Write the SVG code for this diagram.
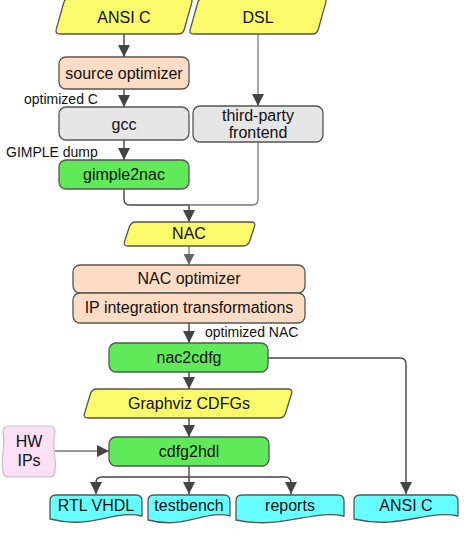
<svg xmlns="http://www.w3.org/2000/svg" width="474" height="539" viewBox="0 0 474 539">
<defs>
<style>
text{font-family:"Liberation Sans",Arial,sans-serif;font-size:16px;fill:#111;text-anchor:middle}
.lbl{font-size:14px;text-anchor:start}
.n{stroke:#555;stroke-width:1.3}
.io{fill:#fafa6a}
.opt{fill:#fcdcc4}
.gry{fill:#e6e6e6}
.grn{fill:#60ea5a}
.doc{fill:#66ffff}
.ip{fill:#f9e0f5}
.c{fill:none;stroke:#444;stroke-width:1.4}
.cg{fill:none;stroke:#777;stroke-width:1.3}
</style>
<marker id="ah" markerUnits="userSpaceOnUse" markerWidth="12" markerHeight="12" viewBox="0 0 10 10" refX="10" refY="5" orient="auto"><path d="M0,0 L10,5 L0,10 z" fill="#444"/></marker>
<marker id="ahg" markerUnits="userSpaceOnUse" markerWidth="11" markerHeight="11" viewBox="0 0 10 10" refX="10" refY="5" orient="auto"><path d="M0,0 L10,5 L0,10 z" fill="#666"/></marker>
</defs>
<g id="connectors">
<path class="c" d="M124,34 V57" marker-end="url(#ah)"/>
<path class="c" d="M124,89 V107" marker-end="url(#ah)"/>
<path class="c" d="M124,140 V160" marker-end="url(#ah)"/>
<path class="cg" d="M258,34 V106" marker-end="url(#ah)"/>
<path class="c" d="M124,189 V199 Q124,205 130,205 H189 V222" marker-end="url(#ah)"/>
<path class="cg" d="M258,142 V199 Q258,205 252,205 H189"/>
<path class="cg" d="M189,246 V265" marker-end="url(#ahg)"/>
<path class="c" d="M189,323 V343" marker-end="url(#ah)"/>
<path class="c" d="M189,372 V389" marker-end="url(#ah)"/>
<path class="c" d="M189,418 V437" marker-end="url(#ah)"/>
<path class="cg" d="M55,451 H109" marker-end="url(#ah)"/>
<path class="c" d="M189,466 V494" marker-end="url(#ah)"/>
<path class="c" d="M189,477 H102 Q96,477 96,483 V494" marker-end="url(#ah)"/>
<path class="c" d="M189,477 H285 Q291,477 291,483 V494" marker-end="url(#ah)"/>
<path class="c" d="M268,358 H400 Q406,358 406,364 V494" marker-end="url(#ah)"/>
<text class="lbl" x="24" y="104">optimized C</text>
<text class="lbl" x="6" y="157">GIMPLE dump</text>
<text class="lbl" x="205" y="337">optimized NAC</text>
</g>
<g id="ansic_in"><path class="n io" d="M70,-2 H188 Q193,-2 191.7,2.8 L184.3,29.2 Q183,34 178,34 H60 Q55,34 56.3,29.2 L63.7,2.8 Q65,-2 70,-2 Z"/><text x="124" y="23">ANSI C</text></g>
<g id="dsl"><path class="n io" d="M204,-2 H322 Q327,-2 325.7,2.8 L318.3,29.2 Q317,34 312,34 H194 Q189,34 190.3,29.2 L197.7,2.8 Q199,-2 204,-2 Z"/><text x="258" y="23">DSL</text></g>
<g id="source_optimizer"><rect class="n opt" x="59" y="57" width="130" height="32" rx="7"/><text x="124" y="79">source optimizer</text></g>
<g id="gcc"><rect class="n gry" x="59" y="107" width="130" height="33" rx="7"/><text x="124" y="130">gcc</text></g>
<g id="frontend"><rect class="n gry" x="193" y="106" width="130" height="36" rx="7"/><text x="258" y="121">third-party</text><text x="258" y="138">frontend</text></g>
<g id="gimple2nac"><rect class="n grn" x="59" y="160" width="130" height="29" rx="7"/><text x="124" y="180">gimple2nac</text></g>
<g id="nac"><path class="n io" d="M136,222 H251 Q256,222 254.4,226.7 L249.6,241.3 Q248,246 243,246 H128 Q123,246 124.6,241.3 L129.4,226.7 Q131,222 136,222 Z"/><text x="189" y="239">NAC</text></g>
<g id="nac_optimizer"><rect class="n opt" x="73" y="265" width="232" height="28" rx="7"/><text x="189" y="284">NAC optimizer</text></g>
<g id="ip_integration"><rect class="n opt" x="73" y="293" width="232" height="30" rx="7"/><text x="189" y="313">IP integration transformations</text></g>
<g id="nac2cdfg"><rect class="n grn" x="109" y="343" width="159" height="29" rx="7"/><text x="189" y="363">nac2cdfg</text></g>
<g id="graphviz"><path class="n io" d="M97,389 H288 Q293,389 291.5,393.8 L285.5,413.2 Q284,418 279,418 H88 Q83,418 84.5,413.2 L90.5,393.8 Q92,389 97,389 Z"/><text x="189" y="409">Graphviz CDFGs</text></g>
<g id="cdfg2hdl"><rect class="n grn" x="109" y="437" width="160" height="29" rx="7"/><text x="189" y="457">cdfg2hdl</text></g>
<g id="hw_ips"><path d="M9,426 H49 Q55,426 55,432 C51,446 57,459 55,471 Q55,477 49,477 H9 Q3,477 3,471 C0,459 6,446 3,432 Q3,426 9,426 Z" fill="#f9e0f5" stroke="#ccbbcc" stroke-width="1.2"/><text x="29" y="447">HW</text><text x="29" y="466">IPs</text></g>
<g id="rtl_vhdl"><path class="n doc" d="M50,501 Q50,495 56,495 H136 Q142,495 142,501 V516 C114,509 92,530 50,519 Z"/><text x="96" y="511">RTL VHDL</text></g>
<g id="testbench"><path class="n doc" d="M148,501 Q148,495 154,495 H224 Q230,495 230,501 V516 C206,509 186,530 148,520 Z"/><text x="189" y="511">testbench</text></g>
<g id="reports"><path class="n doc" d="M236,501 Q236,495 242,495 H338 Q344,495 344,501 V516 C312,509 284,530 236,520 Z"/><text x="290" y="511">reports</text></g>
<g id="ansic_out"><path class="n doc" d="M354,501 Q354,495 360,495 H452 Q458,495 458,501 V516 C428,509 400,530 354,519 Z"/><text x="406" y="511">ANSI C</text></g>
</svg>
